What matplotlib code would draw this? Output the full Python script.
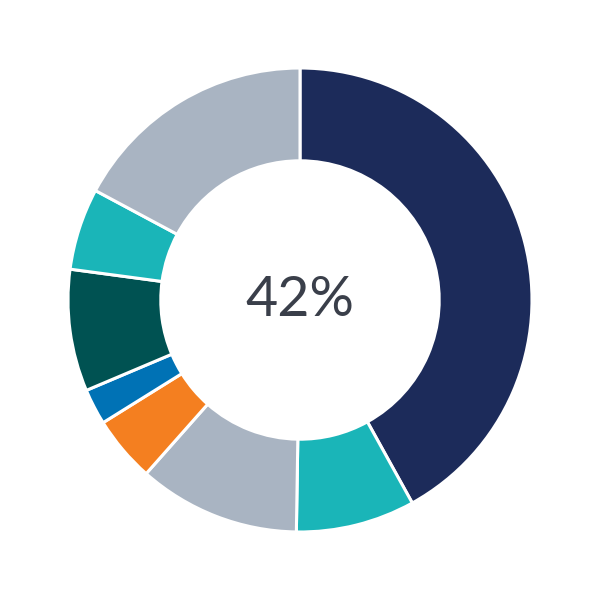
import matplotlib
matplotlib.use("Agg")
import matplotlib.pyplot as plt

labels = ["A", "B", "C", "D", "E", "F", "G", "H"]
values = [42.0, 8.3, 11.3, 4.6, 2.5, 8.5, 5.7, 17.2]
colors = ["#1c2b5a", "#1ab5b8", "#a9b4c2", "#f47f20", "#0072b5", "#005252", "#1ab5b8", "#a9b4c2"]
center_label = "42%"

fig = plt.figure(figsize=(6, 6), dpi=100)
ax = fig.add_axes([0, 0, 1, 1])
ax.pie(values, colors=colors, startangle=90, counterclock=False, radius=1.0,
       wedgeprops=dict(width=0.4, edgecolor="white", linewidth=2.2))
ax.text(0, 0, center_label, ha="center", va="center", fontsize=40,
        color="#3a3f4a", family=["Lato", "DejaVu Sans"])
lim = 300 / 232
ax.set_xlim(-lim, lim)
ax.set_ylim(-lim, lim)
ax.set_aspect("equal")
ax.axis("off")
fig.savefig("out.png", dpi=100, facecolor="white")
